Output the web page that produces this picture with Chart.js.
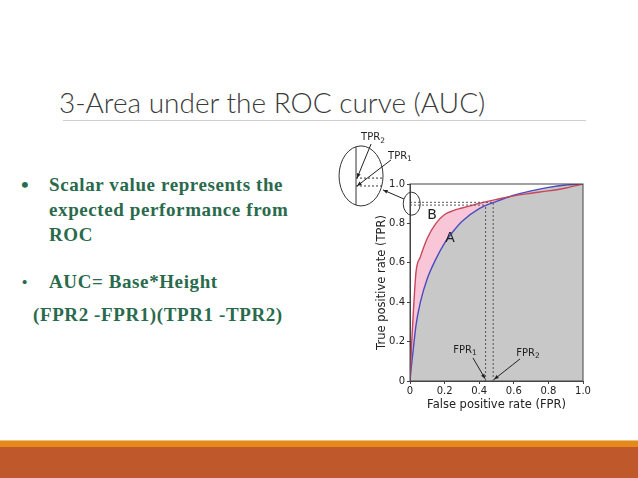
<!DOCTYPE html>
<html>
<head>
<meta charset="utf-8">
<script src="https://cdn.jsdelivr.net/npm/chart.js@4.4.1/dist/chart.umd.min.js"></script>
<style>
  html, body { margin: 0; padding: 0; background: #fff; }
  #slide { position: relative; width: 638px; height: 478px; overflow: hidden; background: #fff; }
  #title { position: absolute; left: 59px; top: 85px; font-family: Lato, "Open Sans", sans-serif; font-weight: 300;
           font-size: 28px; line-height: 34px; color: #3a3a3a; white-space: nowrap; }
  #rule { position: absolute; left: 63px; top: 120px; width: 523px; height: 1px; background: #cfcfcf; }
  .txt { position: absolute; font-family: "Liberation Serif", "DejaVu Serif", serif; font-weight: bold;
         font-size: 19px; letter-spacing: 0.6px; line-height: 20px; color: #2a6a4c; white-space: nowrap; }
  .dot { position: absolute; font-family: "Liberation Serif", serif; font-weight: bold; color: #2a6a4c; }
  #chartBox { position: absolute; left: 330px; top: 125px; width: 270px; height: 290px; }
  #band1 { position: absolute; left: 0; top: 441px; width: 638px; height: 6px; background: #e6891a; }
  #band0 { position: absolute; left: 0; top: 440px; width: 638px; height: 1px; background: #e9c08a; }
  #band2 { position: absolute; left: 0; top: 447px; width: 638px; height: 31px; background: #bf592c; }
</style>
</head>
<body>
<div id="slide">
  <div id="title">3-Area under the ROC curve (AUC)</div>
  <div id="rule"></div>

  <div class="dot" style="left:21px; top:172px; font-size:22px;">•</div>
  <div class="txt" style="left:49px; top:175px;">Scalar value represents the</div>
  <div class="txt" style="left:49px; top:200px;">expected performance from</div>
  <div class="txt" style="left:49px; top:225px;">ROC</div>
  <div class="dot" style="left:22px; top:274px; font-size:15px;">•</div>
  <div class="txt" style="left:49px; top:272px;">AUC= Base*Height</div>
  <div class="txt" style="left:33px; top:305px;">(FPR2 -FPR1)(TPR1 -TPR2)</div>

  <div id="chartBox"><canvas id="roc" width="270" height="290"></canvas></div>

  <div id="band0"></div>
  <div id="band1"></div>
  <div id="band2"></div>
</div>

<script>
// ROC curves (shared FPR grid)
const fpr  = [0, 0.005, 0.01, 0.02, 0.035, 0.06, 0.1, 0.15, 0.2, 0.25, 0.3, 0.4, 0.5, 0.6, 0.7, 0.8, 0.9, 1.0];
const tprA = [0, 0.05, 0.09, 0.17, 0.285, 0.40, 0.52, 0.62, 0.70, 0.76, 0.81, 0.875, 0.912, 0.943, 0.965, 0.983, 0.995, 1.0];
const tprB = [0, 0.10, 0.20, 0.36, 0.555, 0.63, 0.725, 0.80, 0.845, 0.865, 0.878, 0.902, 0.922, 0.94, 0.953, 0.965, 0.98, 1.0];

// FPR1, FPR2 and TPR1, TPR2 marks
const fprMarks = [0.437, 0.481];
const tprMarks = [0.893, 0.907];

const xTickLabels = ['0', '0.2', '0.4', '0.6', '0.8', '1.0'];
const yTickLabels = ['0', '0.2', '0.4', '0.6', '0.8', '1.0'];

const pts = (ys) => fpr.map((x, i) => ({ x, y: ys[i] }));

const dashed = (data) => ({
  type: 'line', data, borderColor: '#555', borderWidth: 1, borderDash: [2, 2],
  pointRadius: 0, fill: false, order: 0
});

const FONT = '"DejaVu Sans", Verdana, sans-serif';

// extra drawing: frame, magnifier circles, arrows, labels
const overlay = {
  id: 'overlay',
  afterDraw(chart) {
    const ctx = chart.ctx;
    const xs = chart.scales.x, ys = chart.scales.y;
    const P = (x, y) => [xs.getPixelForValue(x), ys.getPixelForValue(y)];
    const a = chart.chartArea;
    ctx.save();

    ctx.strokeStyle = '#444';
    ctx.lineWidth = 1;
    ctx.strokeRect(a.left, a.top, a.right - a.left, a.bottom - a.top);

    const arrow = (from, to) => {
      const [x1, y1] = P(...from), [x2, y2] = P(...to);
      const ang = Math.atan2(y2 - y1, x2 - x1);
      ctx.strokeStyle = '#222';
      ctx.fillStyle = '#222';
      ctx.lineWidth = 1;
      ctx.beginPath(); ctx.moveTo(x1, y1); ctx.lineTo(x2, y2); ctx.stroke();
      ctx.beginPath();
      ctx.moveTo(x2, y2);
      ctx.lineTo(x2 - 5 * Math.cos(ang - 0.4), y2 - 5 * Math.sin(ang - 0.4));
      ctx.lineTo(x2 - 5 * Math.cos(ang + 0.4), y2 - 5 * Math.sin(ang + 0.4));
      ctx.closePath(); ctx.fill();
    };

    const subLabel = (main, sub, at) => {
      const [x, y] = P(...at);
      ctx.fillStyle = '#222';
      ctx.font = '10px ' + FONT;
      const w1 = ctx.measureText(main).width;
      ctx.font = '7.5px ' + FONT;
      const w2 = ctx.measureText(sub).width;
      const x0 = x - (w1 + w2) / 2;
      ctx.textBaseline = 'middle';
      ctx.textAlign = 'left';
      ctx.font = '10px ' + FONT;
      ctx.fillText(main, x0, y);
      ctx.font = '7.5px ' + FONT;
      ctx.fillText(sub, x0 + w1, y + 3);
    };

    // small circle at the TPR marks
    const [sx, sy] = P(0.01, (tprMarks[0] + tprMarks[1]) / 2);
    ctx.strokeStyle = '#333';
    ctx.lineWidth = 1;
    ctx.beginPath(); ctx.ellipse(sx, sy, 8.5, 11.5, 0, 0, Math.PI * 2); ctx.stroke();

    // big magnified circle
    const [bx, by] = P(-0.283, 1.041);
    const rx = 22, ry = 30;
    ctx.beginPath(); ctx.ellipse(bx, by, rx, ry, 0, 0, Math.PI * 2); ctx.stroke();
    const vx = P(-0.312, 0)[0];
    const dyv = ry * Math.sqrt(1 - ((vx - bx) / rx) ** 2);
    ctx.beginPath(); ctx.moveTo(vx, by - dyv); ctx.lineTo(vx, by + dyv); ctx.stroke();
    ctx.setLineDash([2, 2]);
    [1.03, 0.99].forEach(v => {
      const hy = P(0, v)[1];
      const dxh = rx * Math.sqrt(1 - ((hy - by) / ry) ** 2);
      ctx.beginPath(); ctx.moveTo(vx, hy); ctx.lineTo(bx + dxh, hy); ctx.stroke();
    });
    ctx.setLineDash([]);

    arrow([-0.035, 0.924], [-0.156, 0.970]);
    arrow([-0.225, 1.203], [-0.306, 1.030]);
    arrow([-0.110, 1.122], [-0.306, 0.990]);
    arrow([0.364, 0.117], [0.434, 0.012]);
    arrow([0.636, 0.112], [0.486, 0.008]);

    subLabel('TPR', '2', [-0.214, 1.234]);
    subLabel('TPR', '1', [-0.058, 1.142]);
    subLabel('FPR', '1', [0.318, 0.157]);
    subLabel('FPR', '2', [0.682, 0.142]);

    ctx.fillStyle = '#222';
    ctx.font = '14px ' + FONT;
    ctx.textAlign = 'center';
    ctx.textBaseline = 'middle';
    let [lx, ly] = P(0.127, 0.843);
    ctx.fillText('B', lx, ly);
    [lx, ly] = P(0.231, 0.726);
    ctx.fillText('A', lx, ly);

    ctx.restore();
  }
};

new Chart(document.getElementById('roc').getContext('2d'), {
  type: 'line',
  data: {
    datasets: [
      { label: 'A', data: pts(tprA), borderColor: '#4a4ac4', borderWidth: 1.4, backgroundColor: '#c8c8c8',
        fill: 'origin', pointRadius: 0, cubicInterpolationMode: 'monotone', order: 2 },
      { label: 'B', data: pts(tprB), borderColor: '#c8475c', borderWidth: 1.4,
        fill: { target: 0, above: '#f8c6d6', below: 'rgba(0,0,0,0)' },
        pointRadius: 0, cubicInterpolationMode: 'monotone', order: 1 },
      dashed([{ x: fprMarks[0], y: 0 }, { x: fprMarks[0], y: tprMarks[0] }]),
      dashed([{ x: fprMarks[1], y: 0 }, { x: fprMarks[1], y: tprMarks[1] }]),
      dashed([{ x: 0, y: tprMarks[0] }, { x: fprMarks[0], y: tprMarks[0] }]),
      dashed([{ x: 0, y: tprMarks[1] }, { x: fprMarks[1], y: tprMarks[1] }])
    ]
  },
  options: {
    responsive: false,
    animation: false,
    layout: { padding: { left: 45, top: 59, right: 17, bottom: 0 } },
    plugins: { legend: { display: false }, tooltip: { enabled: false }, filler: { drawTime: 'beforeDatasetsDraw' } },
    scales: {
      x: {
        type: 'linear', min: 0, max: 1,
        afterFit: (s) => { s.height = 34; },
        grid: { drawOnChartArea: false, tickLength: 3, color: '#444' },
        border: { color: '#444' },
        ticks: { stepSize: 0.2, padding: 1, color: '#222', font: { family: FONT, size: 10 },
                 callback: (v, i) => xTickLabels[i] },
        title: { display: true, text: 'False positive rate (FPR)', color: '#222', padding: { top: 0, bottom: 3 },
                 font: { family: FONT, size: 11.5 } }
      },
      y: {
        type: 'linear', min: 0, max: 1,
        afterFit: (s) => { s.width = 35; },
        grid: { drawOnChartArea: false, tickLength: 3, color: '#444' },
        border: { color: '#444' },
        ticks: { stepSize: 0.2, padding: 2, color: '#222', font: { family: FONT, size: 10 },
                 callback: (v, i) => yTickLabels[i] },
        title: { display: true, text: 'True positive rate (TPR)', color: '#222', padding: 0,
                 font: { family: FONT, size: 11.5 } }
      }
    }
  },
  plugins: [overlay]
});
</script>
</body>
</html>
